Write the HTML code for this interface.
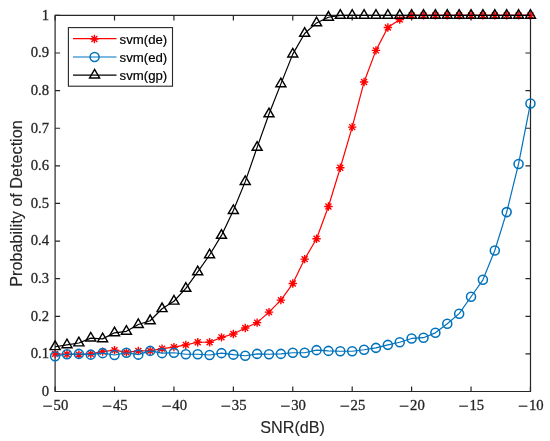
<!DOCTYPE html><html><head><meta charset="utf-8"><title>Probability of Detection vs SNR</title><style>html,body{margin:0;padding:0;background:#fff;}svg{display:block;}</style></head><body>
<svg width="550" height="441" viewBox="0 0 550 441">
<rect width="550" height="441" fill="#fff"/>
<g stroke="#262626" stroke-width="1.2" fill="none">
<path d="M55.1 15.4V391.5M530.5 15.4V391.5M54.5 15.4H531.1M54.5 391.5H531.1"/>
<path d="M55.1 391.5v-5M55.1 15.4v5M114.52 391.5v-5M114.52 15.4v5M173.94 391.5v-5M173.94 15.4v5M233.36 391.5v-5M233.36 15.4v5M292.78 391.5v-5M292.78 15.4v5M352.19 391.5v-5M352.19 15.4v5M411.61 391.5v-5M411.61 15.4v5M471.03 391.5v-5M471.03 15.4v5M530.45 391.5v-5M530.45 15.4v5M55.1 391.5h5M530.45 391.5h-5M55.1 353.89h5M530.45 353.89h-5M55.1 316.28h5M530.45 316.28h-5M55.1 278.67h5M530.45 278.67h-5M55.1 241.06h5M530.45 241.06h-5M55.1 203.45h5M530.45 203.45h-5M55.1 165.84h5M530.45 165.84h-5M55.1 128.23h5M530.45 128.23h-5M55.1 90.62h5M530.45 90.62h-5M55.1 53.01h5M530.45 53.01h-5M55.1 15.4h5M530.45 15.4h-5"/>
</g>
<g font-family="'Liberation Serif', serif" font-size="14.7" fill="#262626" stroke="#262626" stroke-width="0.3">
<text x="55.4" y="410.1" text-anchor="middle"><tspan font-size="18" dy="2.1">−</tspan><tspan dx="0.8" dy="-2.1">50</tspan></text>
<text x="114.82" y="410.1" text-anchor="middle"><tspan font-size="18" dy="2.1">−</tspan><tspan dx="0.8" dy="-2.1">45</tspan></text>
<text x="174.24" y="410.1" text-anchor="middle"><tspan font-size="18" dy="2.1">−</tspan><tspan dx="0.8" dy="-2.1">40</tspan></text>
<text x="233.66" y="410.1" text-anchor="middle"><tspan font-size="18" dy="2.1">−</tspan><tspan dx="0.8" dy="-2.1">35</tspan></text>
<text x="293.08" y="410.1" text-anchor="middle"><tspan font-size="18" dy="2.1">−</tspan><tspan dx="0.8" dy="-2.1">30</tspan></text>
<text x="352.49" y="410.1" text-anchor="middle"><tspan font-size="18" dy="2.1">−</tspan><tspan dx="0.8" dy="-2.1">25</tspan></text>
<text x="411.91" y="410.1" text-anchor="middle"><tspan font-size="18" dy="2.1">−</tspan><tspan dx="0.8" dy="-2.1">20</tspan></text>
<text x="471.33" y="410.1" text-anchor="middle"><tspan font-size="18" dy="2.1">−</tspan><tspan dx="0.8" dy="-2.1">15</tspan></text>
<text x="530.75" y="410.1" text-anchor="middle"><tspan font-size="18" dy="2.1">−</tspan><tspan dx="0.8" dy="-2.1">10</tspan></text>
<text x="49.0" y="395.9" text-anchor="end">0</text>
<text x="49.0" y="358.29" text-anchor="end">0.1</text>
<text x="49.0" y="320.68" text-anchor="end">0.2</text>
<text x="49.0" y="283.07" text-anchor="end">0.3</text>
<text x="49.0" y="245.46" text-anchor="end">0.4</text>
<text x="49.0" y="207.85" text-anchor="end">0.5</text>
<text x="49.0" y="170.24" text-anchor="end">0.6</text>
<text x="49.0" y="132.63" text-anchor="end">0.7</text>
<text x="49.0" y="95.02" text-anchor="end">0.8</text>
<text x="49.0" y="57.41" text-anchor="end">0.9</text>
<text x="49.0" y="19.8" text-anchor="end">1</text>
</g>
<g font-family="'Liberation Sans', sans-serif" font-size="16.2" fill="#262626" stroke="#262626" stroke-width="0.12">
<text x="292.6" y="432.8" text-anchor="middle">SNR(dB)</text>
<text transform="translate(22.2 203.5) rotate(-90)" text-anchor="middle">Probability of Detection</text>
</g>
<g>
<polyline points="55.1,353.89 66.98,354.27 78.87,354.64 90.75,353.89 102.64,351.63 114.52,350.13 126.4,352.39 138.29,350.88 150.17,350.88 162.05,348.62 173.94,347.12 185.82,344.86 197.71,342.23 209.59,342.23 221.47,337.34 233.36,333.96 245.24,327.94 257.12,322.67 269.01,312.14 280.89,300.11 292.78,283.56 304.66,259.11 316.54,238.8 328.43,206.46 340.31,167.72 352.19,127.1 364.08,81.97 375.96,50.38 387.85,27.44 399.73,19.54 411.61,15.4 423.5,15.4 435.38,15.4 447.26,15.4 459.15,15.4 471.03,15.4 482.92,15.4 494.8,15.4 506.68,15.4 518.57,15.4 530.45,15.4" fill="none" stroke="#ff0000" stroke-width="1.2" stroke-linejoin="round"/>
<g stroke="#ff0000" stroke-width="1.4" fill="none"><path d="M55.1 349.69V358.09M50.9 353.89H59.3M52.13 350.92L58.07 356.86M52.13 356.86L58.07 350.92" /><path d="M66.98 350.07V358.47M62.78 354.27H71.18M64.01 351.3L69.95 357.24M64.01 357.24L69.95 351.3" /><path d="M78.87 350.44V358.84M74.67 354.64H83.07M75.9 351.67L81.84 357.61M75.9 357.61L81.84 351.67" /><path d="M90.75 349.69V358.09M86.55 353.89H94.95M87.78 350.92L93.72 356.86M87.78 356.86L93.72 350.92" /><path d="M102.64 347.43V355.83M98.44 351.63H106.84M99.67 348.66L105.6 354.6M99.67 354.6L105.6 348.66" /><path d="M114.52 345.93V354.33M110.32 350.13H118.72M111.55 347.16L117.49 353.1M111.55 353.1L117.49 347.16" /><path d="M126.4 348.19V356.59M122.2 352.39H130.6M123.43 349.42L129.37 355.36M123.43 355.36L129.37 349.42" /><path d="M138.29 346.68V355.08M134.09 350.88H142.49M135.32 347.91L141.26 353.85M135.32 353.85L141.26 347.91" /><path d="M150.17 346.68V355.08M145.97 350.88H154.37M147.2 347.91L153.14 353.85M147.2 353.85L153.14 347.91" /><path d="M162.05 344.42V352.82M157.85 348.62H166.25M159.08 345.65L165.02 351.59M159.08 351.59L165.02 345.65" /><path d="M173.94 342.92V351.32M169.74 347.12H178.14M170.97 344.15L176.91 350.09M170.97 350.09L176.91 344.15" /><path d="M185.82 340.66V349.06M181.62 344.86H190.02M182.85 341.89L188.79 347.83M182.85 347.83L188.79 341.89" /><path d="M197.71 338.03V346.43M193.51 342.23H201.91M194.74 339.26L200.67 345.2M194.74 345.2L200.67 339.26" /><path d="M209.59 338.03V346.43M205.39 342.23H213.79M206.62 339.26L212.56 345.2M206.62 345.2L212.56 339.26" /><path d="M221.47 333.14V341.54M217.27 337.34H225.67M218.5 334.37L224.44 340.31M218.5 340.31L224.44 334.37" /><path d="M233.36 329.76V338.16M229.16 333.96H237.56M230.39 330.99L236.33 336.93M230.39 336.93L236.33 330.99" /><path d="M245.24 323.74V332.14M241.04 327.94H249.44M242.27 324.97L248.21 330.91M242.27 330.91L248.21 324.97" /><path d="M257.12 318.47V326.87M252.92 322.67H261.32M254.15 319.7L260.09 325.64M254.15 325.64L260.09 319.7" /><path d="M269.01 307.94V316.34M264.81 312.14H273.21M266.04 309.17L271.98 315.11M266.04 315.11L271.98 309.17" /><path d="M280.89 295.91V304.31M276.69 300.11H285.09M277.92 297.14L283.86 303.08M277.92 303.08L283.86 297.14" /><path d="M292.78 279.36V287.76M288.58 283.56H296.98M289.81 280.59L295.74 286.53M289.81 286.53L295.74 280.59" /><path d="M304.66 254.91V263.31M300.46 259.11H308.86M301.69 256.14L307.63 262.08M301.69 262.08L307.63 256.14" /><path d="M316.54 234.6V243M312.34 238.8H320.74M313.57 235.83L319.51 241.77M313.57 241.77L319.51 235.83" /><path d="M328.43 202.26V210.66M324.23 206.46H332.63M325.46 203.49L331.4 209.43M325.46 209.43L331.4 203.49" /><path d="M340.31 163.52V171.92M336.11 167.72H344.51M337.34 164.75L343.28 170.69M337.34 170.69L343.28 164.75" /><path d="M352.19 122.9V131.3M347.99 127.1H356.39M349.22 124.13L355.16 130.07M349.22 130.07L355.16 124.13" /><path d="M364.08 77.77V86.17M359.88 81.97H368.28M361.11 79L367.05 84.94M361.11 84.94L367.05 79" /><path d="M375.96 46.18V54.58M371.76 50.38H380.16M372.99 47.41L378.93 53.35M372.99 53.35L378.93 47.41" /><path d="M387.85 23.24V31.64M383.65 27.44H392.05M384.88 24.47L390.81 30.41M384.88 30.41L390.81 24.47" /><path d="M399.73 15.34V23.74M395.53 19.54H403.93M396.76 16.57L402.7 22.51M396.76 22.51L402.7 16.57" /><path d="M411.61 11.2V19.6M407.41 15.4H415.81M408.64 12.43L414.58 18.37M408.64 18.37L414.58 12.43" /><path d="M423.5 11.2V19.6M419.3 15.4H427.7M420.53 12.43L426.47 18.37M420.53 18.37L426.47 12.43" /><path d="M435.38 11.2V19.6M431.18 15.4H439.58M432.41 12.43L438.35 18.37M432.41 18.37L438.35 12.43" /><path d="M447.26 11.2V19.6M443.06 15.4H451.46M444.29 12.43L450.23 18.37M444.29 18.37L450.23 12.43" /><path d="M459.15 11.2V19.6M454.95 15.4H463.35M456.18 12.43L462.12 18.37M456.18 18.37L462.12 12.43" /><path d="M471.03 11.2V19.6M466.83 15.4H475.23M468.06 12.43L474 18.37M468.06 18.37L474 12.43" /><path d="M482.92 11.2V19.6M478.72 15.4H487.12M479.95 12.43L485.88 18.37M479.95 18.37L485.88 12.43" /><path d="M494.8 11.2V19.6M490.6 15.4H499M491.83 12.43L497.77 18.37M491.83 18.37L497.77 12.43" /><path d="M506.68 11.2V19.6M502.48 15.4H510.88M503.71 12.43L509.65 18.37M503.71 18.37L509.65 12.43" /><path d="M518.57 11.2V19.6M514.37 15.4H522.77M515.6 12.43L521.54 18.37M515.6 18.37L521.54 12.43" /><path d="M530.45 11.2V19.6M526.25 15.4H534.65M527.48 12.43L533.42 18.37M527.48 18.37L533.42 12.43" /></g>
<polyline points="55.1,356.15 66.98,354.27 78.87,353.89 90.75,354.64 102.64,353.14 114.52,355.02 126.4,352.76 138.29,354.64 150.17,350.88 162.05,353.14 173.94,352.76 185.82,354.27 197.71,354.27 209.59,355.02 221.47,353.14 233.36,354.64 245.24,355.77 257.12,353.89 269.01,354.27 280.89,353.89 292.78,352.76 304.66,352.76 316.54,350.13 328.43,350.88 340.31,351.26 352.19,351.26 364.08,349.75 375.96,347.87 387.85,344.86 399.73,342.23 411.61,338.47 423.5,337.72 435.38,332.83 447.26,323.8 459.15,313.65 471.03,296.72 482.92,279.8 494.8,250.46 506.68,212.1 518.57,163.96 530.45,103.41" fill="none" stroke="#0072bd" stroke-width="1.2" stroke-linejoin="round"/>
<g stroke="#0072bd" stroke-width="1.55" fill="none"><circle cx="55.1" cy="356.15" r="4.5"/><circle cx="66.98" cy="354.27" r="4.5"/><circle cx="78.87" cy="353.89" r="4.5"/><circle cx="90.75" cy="354.64" r="4.5"/><circle cx="102.64" cy="353.14" r="4.5"/><circle cx="114.52" cy="355.02" r="4.5"/><circle cx="126.4" cy="352.76" r="4.5"/><circle cx="138.29" cy="354.64" r="4.5"/><circle cx="150.17" cy="350.88" r="4.5"/><circle cx="162.05" cy="353.14" r="4.5"/><circle cx="173.94" cy="352.76" r="4.5"/><circle cx="185.82" cy="354.27" r="4.5"/><circle cx="197.71" cy="354.27" r="4.5"/><circle cx="209.59" cy="355.02" r="4.5"/><circle cx="221.47" cy="353.14" r="4.5"/><circle cx="233.36" cy="354.64" r="4.5"/><circle cx="245.24" cy="355.77" r="4.5"/><circle cx="257.12" cy="353.89" r="4.5"/><circle cx="269.01" cy="354.27" r="4.5"/><circle cx="280.89" cy="353.89" r="4.5"/><circle cx="292.78" cy="352.76" r="4.5"/><circle cx="304.66" cy="352.76" r="4.5"/><circle cx="316.54" cy="350.13" r="4.5"/><circle cx="328.43" cy="350.88" r="4.5"/><circle cx="340.31" cy="351.26" r="4.5"/><circle cx="352.19" cy="351.26" r="4.5"/><circle cx="364.08" cy="349.75" r="4.5"/><circle cx="375.96" cy="347.87" r="4.5"/><circle cx="387.85" cy="344.86" r="4.5"/><circle cx="399.73" cy="342.23" r="4.5"/><circle cx="411.61" cy="338.47" r="4.5"/><circle cx="423.5" cy="337.72" r="4.5"/><circle cx="435.38" cy="332.83" r="4.5"/><circle cx="447.26" cy="323.8" r="4.5"/><circle cx="459.15" cy="313.65" r="4.5"/><circle cx="471.03" cy="296.72" r="4.5"/><circle cx="482.92" cy="279.8" r="4.5"/><circle cx="494.8" cy="250.46" r="4.5"/><circle cx="506.68" cy="212.1" r="4.5"/><circle cx="518.57" cy="163.96" r="4.5"/><circle cx="530.45" cy="103.41" r="4.5"/></g>
<polyline points="55.1,346.74 66.98,344.86 78.87,342.98 90.75,338.09 102.64,338.85 114.52,332.83 126.4,331.32 138.29,324.55 150.17,320.79 162.05,308.76 173.94,301.24 185.82,288.45 197.71,271.9 209.59,254.98 221.47,235.42 233.36,210.6 245.24,181.64 257.12,147.41 269.01,113.94 280.89,83.85 292.78,54.14 304.66,33.45 316.54,22.92 328.43,17.28 340.31,15.4 352.19,15.4 364.08,15.4 375.96,15.4 387.85,15.4 399.73,15.4 411.61,15.4 423.5,15.4 435.38,15.4 447.26,15.4 459.15,15.4 471.03,15.4 482.92,15.4 494.8,15.4 506.68,15.4 518.57,15.4 530.45,15.4" fill="none" stroke="#000000" stroke-width="1.2" stroke-linejoin="round"/>
<g stroke="#000000" stroke-width="1.45" fill="none" stroke-linejoin="miter"><path d="M50.1 349.61L60.1 349.61L55.1 341.01Z"/><path d="M61.98 347.73L71.98 347.73L66.98 339.13Z"/><path d="M73.87 345.85L83.87 345.85L78.87 337.25Z"/><path d="M85.75 340.96L95.75 340.96L90.75 332.36Z"/><path d="M97.64 341.71L107.64 341.71L102.64 333.11Z"/><path d="M109.52 335.7L119.52 335.7L114.52 327.1Z"/><path d="M121.4 334.19L131.4 334.19L126.4 325.59Z"/><path d="M133.29 327.42L143.29 327.42L138.29 318.82Z"/><path d="M145.17 323.66L155.17 323.66L150.17 315.06Z"/><path d="M157.05 311.62L167.05 311.62L162.05 303.02Z"/><path d="M168.94 304.1L178.94 304.1L173.94 295.5Z"/><path d="M180.82 291.32L190.82 291.32L185.82 282.72Z"/><path d="M192.71 274.77L202.71 274.77L197.71 266.17Z"/><path d="M204.59 257.84L214.59 257.84L209.59 249.24Z"/><path d="M216.47 238.29L226.47 238.29L221.47 229.69Z"/><path d="M228.36 213.46L238.36 213.46L233.36 204.86Z"/><path d="M240.24 184.5L250.24 184.5L245.24 175.9Z"/><path d="M252.12 150.28L262.12 150.28L257.12 141.68Z"/><path d="M264.01 116.8L274.01 116.8L269.01 108.2Z"/><path d="M275.89 86.72L285.89 86.72L280.89 78.12Z"/><path d="M287.78 57L297.78 57L292.78 48.4Z"/><path d="M299.66 36.32L309.66 36.32L304.66 27.72Z"/><path d="M311.54 25.79L321.54 25.79L316.54 17.19Z"/><path d="M323.43 20.15L333.43 20.15L328.43 11.55Z"/><path d="M335.31 18.27L345.31 18.27L340.31 9.67Z"/><path d="M347.19 18.27L357.19 18.27L352.19 9.67Z"/><path d="M359.08 18.27L369.08 18.27L364.08 9.67Z"/><path d="M370.96 18.27L380.96 18.27L375.96 9.67Z"/><path d="M382.85 18.27L392.85 18.27L387.85 9.67Z"/><path d="M394.73 18.27L404.73 18.27L399.73 9.67Z"/><path d="M406.61 18.27L416.61 18.27L411.61 9.67Z"/><path d="M418.5 18.27L428.5 18.27L423.5 9.67Z"/><path d="M430.38 18.27L440.38 18.27L435.38 9.67Z"/><path d="M442.26 18.27L452.26 18.27L447.26 9.67Z"/><path d="M454.15 18.27L464.15 18.27L459.15 9.67Z"/><path d="M466.03 18.27L476.03 18.27L471.03 9.67Z"/><path d="M477.92 18.27L487.92 18.27L482.92 9.67Z"/><path d="M489.8 18.27L499.8 18.27L494.8 9.67Z"/><path d="M501.68 18.27L511.68 18.27L506.68 9.67Z"/><path d="M513.57 18.27L523.57 18.27L518.57 9.67Z"/><path d="M525.45 18.27L535.45 18.27L530.45 9.67Z"/></g>
</g>
<rect x="68.4" y="27.6" width="104.1" height="58.6" fill="#fff" stroke="#262626" stroke-width="1.1"/>
<path d="M73 38.55H116.5" stroke="#ff0000" stroke-width="1.2"/>
<g stroke="#ff0000" stroke-width="1.4" fill="none"><path d="M94.4 34.75V43.15M90.2 38.95H98.6M91.43 35.98L97.37 41.92M91.43 41.92L97.37 35.98" /></g>
<text x="119.6" y="44.25" font-family="'Liberation Sans', sans-serif" font-size="13.2" fill="#000" stroke="#000" stroke-width="0.2">svm(de)</text>
<path d="M73 57.0H116.5" stroke="#0072bd" stroke-width="1.05"/>
<g stroke="#0072bd" stroke-width="1.55" fill="none"><circle cx="94.6" cy="57" r="4.5"/></g>
<text x="119.6" y="62.3" font-family="'Liberation Sans', sans-serif" font-size="13.2" fill="#000" stroke="#000" stroke-width="0.2">svm(ed)</text>
<path d="M73 75.1H116.5" stroke="#000000" stroke-width="1.05"/>
<g stroke="#000000" stroke-width="1.45" fill="none"><path d="M89.6 77.97L99.6 77.97L94.6 69.37Z"/></g>
<text x="119.6" y="80.4" font-family="'Liberation Sans', sans-serif" font-size="13.2" fill="#000" stroke="#000" stroke-width="0.2">svm(gp)</text>
</svg></body></html>
